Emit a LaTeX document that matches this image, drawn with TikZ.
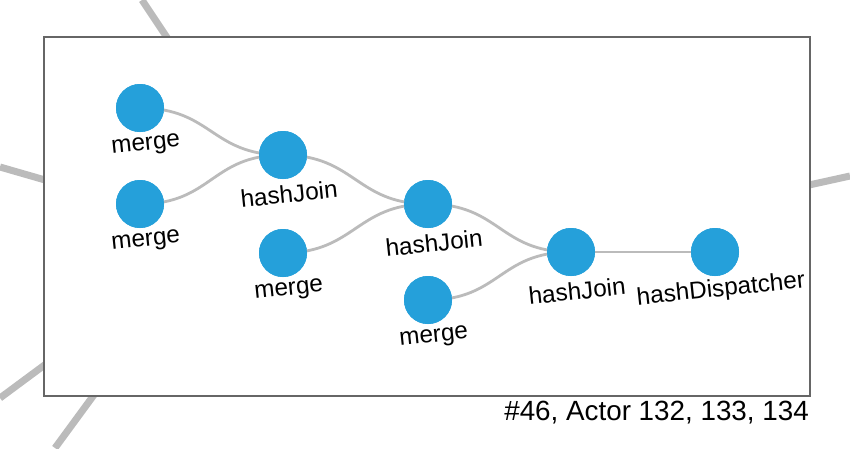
\documentclass[tikz,border=0pt]{standalone}
\usepackage{fontspec}
\setmainfont{Liberation Sans}
\definecolor{nodeblue}{HTML}{25A0DA}
\definecolor{edgegray}{HTML}{BBBBBB}
\definecolor{boxgray}{HTML}{666666}
\tikzset{
  opnode/.style={circle, fill=nodeblue, minimum size=48pt, inner sep=0pt},
  oplabel/.style={font=\fontsize{24.3}{28}\selectfont, rotate=6, inner sep=0pt},
  flow/.style={draw=edgegray, line width=2.8pt},
  bgline/.style={draw=edgegray, line width=7pt},
  frame/.style={draw=boxgray, line width=2pt, fill=white}
}
\begin{document}
\begin{tikzpicture}[x=1pt,y=-1pt]
\useasboundingbox (0,0) rectangle (850,448);
% background links
\coordinate (t1) at (142,0);   \coordinate (t2) at (172,45);
\coordinate (l1) at (0,167);   \coordinate (l2) at (52,182);
\coordinate (ll1) at (0,398);  \coordinate (ll2) at (54,358);
\coordinate (b1) at (55,448);  \coordinate (b2) at (99,388);
\coordinate (r1) at (850,176); \coordinate (r2) at (800,187);
\draw[bgline] (t1) -- (t2);
\draw[bgline] (l1) -- (l2);
\draw[bgline] (ll1) -- (ll2);
\draw[bgline] (b1) -- (b2);
\draw[bgline] (r1) -- (r2);
% frame
\draw[frame] (44,37) rectangle (810,396);
% nodes (placed for naming)
\node[opnode] (m1) at (140,108) {};
\node[opnode] (m2) at (140,204) {};
\node[opnode] (h1) at (283,155) {};
\node[opnode] (m3) at (283,253) {};
\node[opnode] (h2) at (428,204) {};
\node[opnode] (m4) at (428,300) {};
\node[opnode] (h3) at (571,252) {};
\node[opnode] (hd) at (715,252) {};
% edges
\draw[flow] (m1.center) .. controls +(72,0) and +(-72,0) .. (h1.center);
\draw[flow] (m2.center) .. controls +(72,0) and +(-72,0) .. (h1.center);
\draw[flow] (h1.center) .. controls +(72,0) and +(-72,0) .. (h2.center);
\draw[flow] (m3.center) .. controls +(72,0) and +(-72,0) .. (h2.center);
\draw[flow] (h2.center) .. controls +(72,0) and +(-72,0) .. (h3.center);
\draw[flow] (m4.center) .. controls +(72,0) and +(-72,0) .. (h3.center);
\draw[flow] (h3.center) -- (hd.center);
% circles on top of edges
\foreach \n in {m1,m2,h1,m3,h2,m4,h3,hd}{\fill[nodeblue] (\n.center) circle (24pt);}
% labels
\node[oplabel] (lm1) at (146,146) {merge};
\node[oplabel] (lm2) at (146,242) {merge};
\node[oplabel] (lh1) at (289,194) {hashJoin};
\node[oplabel] (lm3) at (289,291) {merge};
\node[oplabel] (lh2) at (434,243) {hashJoin};
\node[oplabel] (lm4) at (434,338) {merge};
\node[oplabel] (lh3) at (577,291) {hashJoin};
\node[oplabel] (lhd) at (721,290) {hashDispatcher};
% caption
\node[anchor=east, font=\fontsize{27.8}{32}\selectfont, inner sep=0pt] (cap) at (809,413) {\#46, Actor 132, 133, 134};
\end{tikzpicture}
\end{document}
